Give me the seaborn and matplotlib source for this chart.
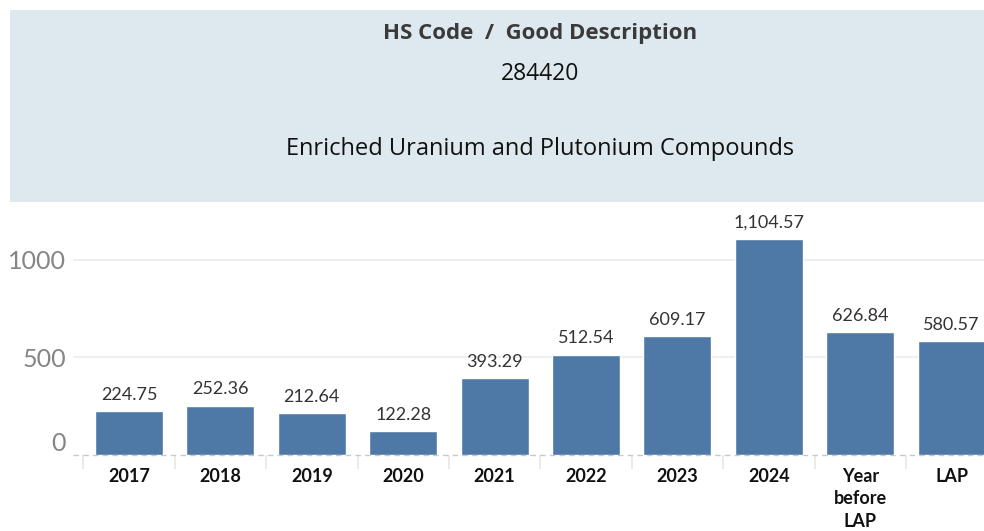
import matplotlib
matplotlib.use("Agg")
import matplotlib.pyplot as plt
import seaborn as sns
import pandas as pd
from matplotlib.patches import Rectangle

categories = ["2017", "2018", "2019", "2020", "2021", "2022", "2023", "2024", "Year\nbefore\nLAP", "LAP"]
values = [224.75, 252.36, 212.64, 122.28, 393.29, 512.54, 609.17, 1104.57, 626.84, 580.57]
value_labels = ["224.75", "252.36", "212.64", "122.28", "393.29", "512.54", "609.17", "1,104.57", "626.84", "580.57"]
y_ticks = [0, 500, 1000]
header_title = "HS Code  /  Good Description"
header_code = "284420"
header_desc = "Enriched Uranium and Plutonium Compounds"

sns.set_theme(style="white")
plt.rcParams['font.family'] = ['Lato', 'DejaVu Sans']

W, H = 984, 531
fig = plt.figure(figsize=(W / 100, H / 100), dpi=100)

# header band
hdr_font = ['Open Sans', 'DejaVu Sans']
fig.patches.append(Rectangle((10 / W, 1 - 202 / H), (W - 10) / W, 192 / H,
                             transform=fig.transFigure, facecolor="#dde9ef", edgecolor="none", zorder=0))
fig.text(540 / W, 1 - 33 / H, header_title, ha="center", va="center", fontsize=16,
         fontweight="bold", color="#3a3a3a", family=hdr_font)
fig.text(540 / W, 1 - 74 / H, header_code, ha="center", va="center", fontsize=16.5,
         color="#111111", family=hdr_font)
fig.text(540 / W, 1 - 149 / H, header_desc, ha="center", va="center", fontsize=17,
         color="#111111", family=hdr_font)

# chart axes
ax_left, ax_right = 73, 984
ax_top, ax_bottom = 205, 455
ax = fig.add_axes([ax_left / W, 1 - ax_bottom / H, (ax_right - ax_left) / W, (ax_bottom - ax_top) / H])
df = pd.DataFrame({"cat": categories, "val": values})
sns.barplot(data=df, x="cat", y="val", color="#4e79a7", saturation=1, width=0.744, ax=ax, zorder=3)

step = 91.4
x0 = -0.5 - (129 - 45.7 - ax_left) / step
ax.set_xlim(x0, x0 + (ax_right - ax_left) / step)
ymax = (ax_bottom - ax_top) / 0.1955
ax.set_ylim(0, ymax)

for i, (v, lab) in enumerate(zip(values, value_labels)):
    ax.annotate(lab, (i, v), xytext=(0, 6), textcoords="offset points", ha="center", va="bottom",
                fontsize=13, color="#333333", zorder=4)

for y in y_ticks[1:]:
    ax.axhline(y, color="#ececec", lw=1.2, zorder=1)
ax.axhline(0, color="#c8c8c8", lw=1, ls=(0, (4, 3)), zorder=2, clip_on=False)

ax.set_yticks(y_ticks)
ax.set_yticklabels([str(t) for t in y_ticks], fontsize=18, color="#858585")
ax.get_yticklabels()[0].set_va("bottom")
ax.tick_params(axis="y", length=0, pad=5)
ax.set_xticks(range(len(categories)))
ax.set_xticklabels(categories, fontsize=13, color="#111111", fontweight="bold", linespacing=1.4)
ax.tick_params(axis="x", which="major", length=0, pad=9)
ax.set_xticks([i - 0.5 for i in range(len(categories))], minor=True)
ax.tick_params(axis="x", which="minor", bottom=True, length=10, color="#e6e6e6", width=1.2)
ax.set_xlabel("")
ax.set_ylabel("")
for s in ax.spines.values():
    s.set_visible(False)
ax.patch.set_alpha(0)

fig.savefig("out.png", dpi=100)
